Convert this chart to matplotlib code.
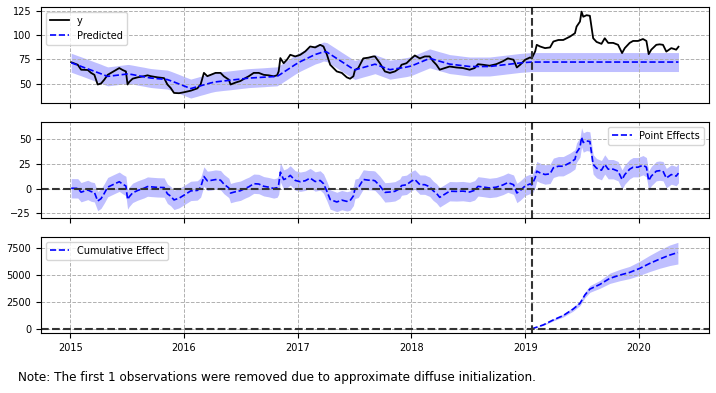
import numpy as np
import pandas as pd
import matplotlib
matplotlib.use("Agg")
import matplotlib.pyplot as plt

# ---- data (decimal years) ----
t_obs = [2015.009, 2015.067, 2015.096, 2015.155, 2015.184, 2015.213, 2015.242, 2015.271, 2015.300, 2015.330,
         2015.359, 2015.403, 2015.432, 2015.461, 2015.490, 2015.505, 2015.519, 2015.549, 2015.593, 2015.651,
         2015.680, 2015.709, 2015.768, 2015.826, 2015.855, 2015.884, 2015.913, 2015.957, 2016.001, 2016.060,
         2016.118, 2016.147, 2016.176, 2016.206, 2016.235, 2016.278, 2016.322, 2016.351, 2016.395, 2016.410,
         2016.454, 2016.497, 2016.541, 2016.570, 2016.614, 2016.658, 2016.702, 2016.745, 2016.789, 2016.819,
         2016.833, 2016.848, 2016.877, 2016.906, 2016.935, 2016.979, 2017.023, 2017.067, 2017.110, 2017.154,
         2017.198, 2017.227, 2017.257, 2017.286, 2017.315, 2017.344, 2017.388, 2017.432, 2017.461, 2017.490,
         2017.504, 2017.533, 2017.577, 2017.621, 2017.665, 2017.680, 2017.723, 2017.767, 2017.811, 2017.855,
         2017.898, 2017.913, 2017.957, 2018.001, 2018.030, 2018.074, 2018.118, 2018.161, 2018.191, 2018.220,
         2018.249, 2018.293, 2018.336, 2018.395, 2018.453, 2018.512, 2018.556, 2018.585, 2018.629, 2018.687,
         2018.746, 2018.804, 2018.848, 2018.898, 2018.927, 2018.956, 2019.000, 2019.044, 2019.058,
         2019.088, 2019.102, 2019.131, 2019.175, 2019.219, 2019.248, 2019.292, 2019.335, 2019.365, 2019.394,
         2019.438, 2019.452, 2019.482, 2019.496, 2019.511, 2019.540, 2019.569, 2019.598, 2019.628, 2019.671,
         2019.700, 2019.730, 2019.774, 2019.817, 2019.852, 2019.876, 2019.919, 2019.949, 2019.992, 2020.036,
         2020.066, 2020.086, 2020.109, 2020.153, 2020.182, 2020.212, 2020.241, 2020.285, 2020.328, 2020.348]

y_obs = [72, 69.4, 64.3, 64, 61, 59, 49, 50, 54, 59,
         61, 64, 66, 64, 62.5, 49, 51.6, 55, 56.4, 57.6,
         58.5, 57.6, 56.4, 55.6, 49, 45.4, 40.3, 40, 41, 42.6,
         45, 49, 61, 57.6, 59, 61, 61, 57.5, 54, 49,
         51, 52.6, 55.7, 57.5, 61, 61, 59, 58.5, 57.5, 58.5,
         62.5, 76.3, 71, 74.6, 79.7, 78, 79.7, 83.2, 88.3, 87.3,
         90, 88.3, 80, 69.4, 66, 62.5, 61, 56.4, 55, 57.5,
         64, 66, 76, 76.7, 78, 78, 71, 62.5, 61, 62.5,
         66, 69.4, 71, 76, 79, 76, 78, 78, 73, 69.4,
         64.3, 66, 67.6, 66.6, 66, 64.3, 66, 70, 69.4, 68.4,
         70, 73, 76, 74.6, 66.6, 69.4, 74.6, 77, 76,
         83.2, 90, 88.3, 86.6, 87.3, 93.4, 95, 95, 96.8, 98.5,
         102, 108.8, 114, 124.3, 119, 120.6, 120, 96.8, 93, 91,
         96.8, 92, 92, 90, 81.5, 86.6, 92, 94, 94, 96,
         94, 80.4, 85, 90, 90.5, 90, 83, 86.6, 85, 88]

y_pred = [71.5, 69.0, 67.8, 65.2, 63.9, 62.6, 61.4, 60.1, 58.7, 57.4,
          57.8, 58.4, 58.9, 59.3, 59.7, 59.9, 59.8, 59.2, 58.2, 57.0,
          56.3, 55.7, 55.0, 54.4, 54.1, 52.9, 51.6, 49.6, 47.5, 44.8,
          46.7, 47.7, 48.6, 49.6, 50.6, 51.7, 52.3, 52.7, 53.2, 53.4,
          54.0, 54.6, 55.2, 55.6, 55.9, 56.2, 56.5, 56.9, 57.2, 57.4,
          58.4, 59.5, 61.7, 63.9, 66.2, 69.6, 72.6, 75.1, 77.5, 80.0,
          81.6, 83.1, 82.5, 80.3, 78.1, 75.9, 72.5, 69.2, 67.0, 64.8,
          64.1, 65.1, 66.6, 68.0, 69.5, 70.0, 68.1, 66.2, 64.3, 65.1,
          65.9, 66.2, 67.0, 68.2, 69.6, 71.8, 73.9, 76.0, 75.0, 74.0,
          73.0, 71.6, 70.1, 69.3, 68.4, 67.6, 67.6, 67.6, 67.6, 67.6,
          68.4, 69.2, 69.8, 70.5, 70.9, 71.3, 71.7, 72.1, 72.2,
          72.2, 72.2, 72.2, 72.2, 72.2, 72.2, 72.2, 72.2, 72.2, 72.2,
          72.2, 72.2, 72.2, 72.2, 72.2, 72.2, 72.2, 72.2, 72.2, 72.2,
          72.2, 72.2, 72.2, 72.2, 72.2, 72.2, 72.2, 72.2, 72.2, 72.2,
          72.2, 72.2, 72.2, 72.2, 72.2, 72.2, 72.2, 72.2, 72.2, 72.2]

pred_ci_half = 9.8   # half-width of the predicted interval

t_cum = [2019.058, 2019.160, 2019.248, 2019.335, 2019.423, 2019.482, 2019.525, 2019.569, 2019.657,
         2019.744, 2019.832, 2019.919, 2020.007, 2020.095, 2020.182, 2020.270, 2020.343]
cum_effect = [0, 370, 830, 1230, 1840, 2360, 3130, 3680, 4110, 4670, 4970, 5220, 5590, 6050, 6450, 6820, 7060]
cum_lower = [0, 320, 740, 1100, 1650, 2150, 2880, 3380, 3750, 4200, 4450, 4650, 4950, 5300, 5600, 5850, 6000]
cum_upper = [0, 420, 920, 1360, 2030, 2580, 3380, 4000, 4480, 5150, 5500, 5780, 6250, 6800, 7300, 7750, 8000]

intervention_t = 2019.058
note = "Note: The first 1 observations were removed due to approximate diffuse initialization."


def to_dates(ts):
    ts = np.asarray(ts, dtype=float)
    return pd.Timestamp("2015-01-01") + pd.to_timedelta((ts - 2015.0) * 365.25, unit="D")


d_obs = to_dates(t_obs)
d_cum = to_dates(t_cum)
d_int = to_dates([intervention_t])[0]

y = np.array(y_obs)
pred = np.array(y_pred)
lower = pred - pred_ci_half
upper = pred + pred_ci_half
effect = y - pred
eff_lower = y - upper
eff_upper = y - lower

plt.rcParams["font.family"] = ["DejaVu Sans"]
fig = plt.figure(figsize=(7.16, 3.93), dpi=100)
gs = fig.add_gridspec(3, 1, left=0.057, right=0.990, top=0.982, bottom=0.153, hspace=0.2)
ax1 = fig.add_subplot(gs[0])
ax2 = fig.add_subplot(gs[1], sharex=ax1)
ax3 = fig.add_subplot(gs[2], sharex=ax1)

band_col = (0.0, 0.0, 1.0, 0.25)
vcol = "#333333"

ax1.plot(d_obs, y, color="k", lw=1.3, label="y")
ax1.plot(d_obs, pred, color="blue", ls="--", lw=1.2, label="Predicted")
ax1.fill_between(d_obs, lower, upper, color=band_col, lw=0)
ax1.axvline(d_int, color=vcol, ls="--", lw=1.5)
ax1.set_ylim(30, 129)
ax1.set_yticks([50, 75, 100, 125])
ax1.legend(loc="upper left", fontsize=7)

ax2.plot(d_obs, effect, color="blue", ls="--", lw=1.2, label="Point Effects")
ax2.fill_between(d_obs, eff_lower, eff_upper, color=band_col, lw=0)
ax2.axvline(d_int, color=vcol, ls="--", lw=1.5)
ax2.axhline(0, color=vcol, ls="--", lw=1.5)
ax2.set_ylim(-29.5, 67.5)
ax2.set_yticks([-25, 0, 25, 50])
ax2.legend(loc="upper right", fontsize=7)

ax3.plot(d_cum, cum_effect, color="blue", ls="--", lw=1.2, label="Cumulative Effect")
ax3.fill_between(d_cum, cum_lower, cum_upper, color=band_col, lw=0)
ax3.axvline(d_int, color=vcol, ls="--", lw=1.5)
ax3.axhline(0, color=vcol, ls="--", lw=1.5)
ax3.set_ylim(-370, 8490)
ax3.set_yticks([0, 2500, 5000, 7500])
ax3.legend(loc="upper left", fontsize=7)

for ax in (ax1, ax2, ax3):
    ax.grid(True, ls="--", color="#b0b0b0", lw=0.7)
    ax.tick_params(labelsize=7)
for ax in (ax1, ax2):
    plt.setp(ax.get_xticklabels(), visible=False)

fig.text(0.025, 0.022, note, fontsize=8.65, ha="left", va="bottom")

fig.savefig("out.png", dpi=100)
